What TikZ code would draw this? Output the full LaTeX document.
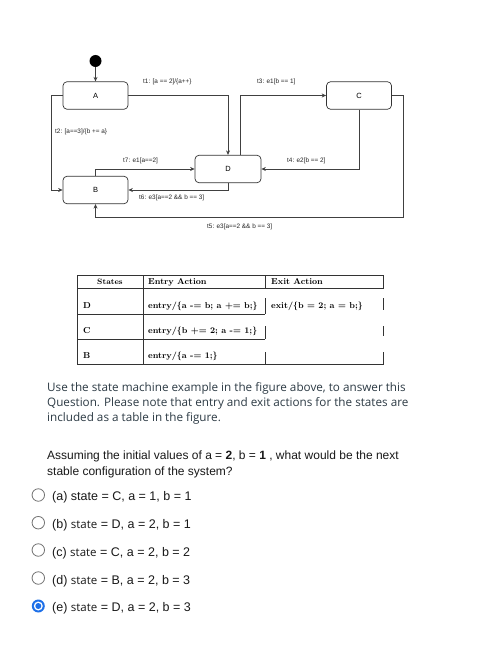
\documentclass[tikz,border=0pt]{standalone}
\usepackage{fontspec}
\newfontfamily\arial{Liberation Sans}
\newfontfamily\osans{Open Sans}
\usetikzlibrary{arrows.meta,calc}
\definecolor{selblue}{RGB}{30,112,232}
\definecolor{qgray}{RGB}{45,59,69}
\newcommand{\stword}{{\osans\fontsize{11.5}{12}\selectfont state}}
\begin{document}
\begin{tikzpicture}[x=1pt,y=-1pt,
  state/.style={draw=black!80, line width=0.7pt, rounded corners=4pt, minimum width=65pt, minimum height=27.5pt, inner sep=0pt, font=\arial\fontsize{7.5}{8}\selectfont},
  conn/.style={draw=black!75, line width=0.9pt, -{Stealth[length=4.5pt,width=4pt]}},
  tlab/.style={font=\arial\fontsize{6.4}{7}\selectfont, anchor=west, inner sep=0pt, text=black!85},
  tab/.style={draw=black!80, line width=0.6pt},
  ttxt/.style={font=\fontsize{8.6}{10}\selectfont\bfseries, anchor=west, inner sep=0pt},
  qtxt/.style={font=\osans\fontsize{11.7}{13}\selectfont, anchor=west, inner sep=0pt, text=qgray},
  atxt/.style={font=\arial\fontsize{12}{13}\selectfont, anchor=west, inner sep=0pt, text=black!90},
  otxt/.style={font=\arial\fontsize{12.5}{13}\selectfont, anchor=west, inner sep=0pt, text=black!90},
  radio/.style={circle, draw=black!55, line width=0.8pt, fill=white, minimum size=12.5pt, inner sep=0pt}]
\useasboundingbox[fill=white] (0,0) rectangle (492,650);

% states
\node[circle, fill=black, minimum size=12pt, inner sep=0pt] (init) at (95.5,61) {};
\node[state] (A) at (95.5,95.5) {A};
\node[state] (C) at (359,95.5) {C};
\node[state, minimum width=66pt] (D) at (228,169) {D};
\node[state] (B) at (95.5,190) {B};

% connectors
\draw[conn] (init) -- (A);
\draw[conn] (A) -| (D);
\draw[conn] ([xshift=12pt]D.north) |- (C);
\draw[conn] (C) |- (D);
\draw[conn] (A.west) -- ([xshift=-11pt]A.west) |- (B.west);
\draw[conn] (B) |- (D);
\draw[conn] (D) |- (B);
\coordinate (t5c) at ($(B.south)+(0,13)$);
\draw[conn] (C.east) -- ([xshift=12pt]C.east) |- (t5c) -- (B.south);

% transition labels
\node[tlab] (l1) at (143,82) {t1: [a == 2]/\{a++\}};
\node[tlab] (l3) at (257,82) {t3: e1[b == 1]};
\node[tlab] (l2) at (55,132) {t2: [a==3]/\{b += a\}};
\node[tlab] (l7) at (123,161) {t7: e1[a==2]};
\node[tlab] (l4) at (287,161) {t4: e2[b == 2]};
\node[tlab] (l6) at (139,197.5) {t6: e3[a==2 \&\& b == 3]};
\node[tlab] (l5) at (207,227) {t5: e3[a==2 \&\& b == 3]};

% table
\draw[tab] (77,275) -- (383,275);
\draw[tab] (77,288.5) -- (383,288.5);
\draw[tab] (77,275) -- (77,364.5) -- (383,364.5);
\draw[tab] (143,275) -- (143,364.5);
\draw[tab] (77,314) -- (265,314);
\draw[tab] (77,339) -- (265,339);
\draw[tab] (265,275) -- (265,288.5);
\draw[tab] (383,275) -- (383,288.5);
\draw[tab] (265,298) -- (265,313.5);
\draw[tab] (265,326) -- (265,339);
\draw[tab] (265,352) -- (265,364.5);
\draw[tab] (383,298) -- (383,310);
\draw[tab] (383,326) -- (383,336);
\draw[tab] (383,352) -- (383,364.5);

\node[ttxt, anchor=center, font=\fontsize{7.8}{9}\selectfont\bfseries] (h1) at (110,282) {States};
\node[ttxt] (h2) at (148,282) {Entry Action};
\node[ttxt] (h3) at (271,282) {Exit Action};
\node[ttxt] (sD) at (83,306) {D};
\node[ttxt] (sC) at (83,331) {C};
\node[ttxt] (sB) at (83,356) {B};
\node[ttxt] (eD) at (148,306) {entry/\{a -= b; a += b;\}};
\node[ttxt] (xD) at (271,306) {exit/\{b = 2; a = b;\}};
\node[ttxt] (eC) at (148,331) {entry/\{b += 2; a -= 1;\}};
\node[ttxt] (eB) at (148,356) {entry/\{a -= 1;\}};

% question text
\node[qtxt] (q1) at (47,388) {Use the state machine example in the figure above, to answer this};
\node[qtxt] (q2) at (47,403) {Question. Please note that entry and exit actions for the states are};
\node[qtxt] (q3) at (47,418) {included as a table in the figure.};

\node[atxt] (p1) at (47,456) {Assuming the initial values of a = \textbf{2}, b = \textbf{1} , what would be the next};
\node[atxt] (p2) at (47,472) {stable configuration of the system?};

% options
\node[radio] (ra) at (38.3,495) {};
\node[radio] (rb) at (38.3,522.7) {};
\node[radio] (rc) at (38.3,550) {};
\node[radio] (rd) at (38.3,578) {};
\node[circle, fill=selblue, minimum size=13pt, inner sep=0pt] (re) at (38.3,606) {};
\node[circle, fill=white, minimum size=9pt, inner sep=0pt] (rei) at (re) {};
\node[circle, fill=selblue, minimum size=6pt, inner sep=0pt] (rec) at (re) {};

\node[otxt] (oa) at (52,497) {(a) state = C, a = 1, b = 1};
\node[otxt] (ob) at (52,525.7) {(b) \stword{} = D, a = 2, b = 1};
\node[otxt] (oc) at (52,553) {(c) \stword{} = C, a = 2, b = 2};
\node[otxt] (od) at (52,581.7) {(d) \stword{} = B, a = 2, b = 3};
\node[otxt] (oe) at (52,608) {(e) \stword{} = D, a = 2, b = 3};
\end{tikzpicture}
\end{document}
